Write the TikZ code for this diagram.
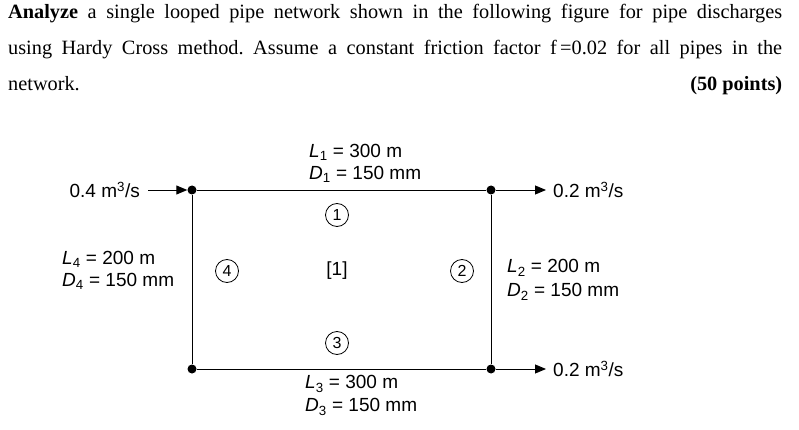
\documentclass[tikz,border=0pt]{standalone}
\usepackage{fontspec}
\setmainfont{Liberation Serif}
\newfontfamily\arial{Liberation Sans}
\usetikzlibrary{arrows.meta}
\begin{document}
\begin{tikzpicture}[x=1pt,y=-1pt,
  dot/.style={circle,fill,inner sep=0pt,minimum size=9pt},
  lbl/.style={font=\arial\fontsize{19}{22}\selectfont,inner sep=0pt},
  num/.style={circle,draw,line width=0.8pt,inner sep=0pt,minimum size=23pt,font=\arial\fontsize{16}{16}\selectfont},
  pipe/.style={line width=0.9pt},
  flow/.style={line width=0.9pt,-{Triangle[length=11pt,width=9pt]}}]
\useasboundingbox (0,0) rectangle (799,430);
\node[anchor=north west,inner sep=0pt,text width=774pt,align=justify,
  font=\fontsize{20.3}{36}\selectfont\frenchspacing] (txt) at (8,4)
 {\textbf{Analyze} a single looped pipe network shown in the following figure for pipe discharges\linebreak
  using Hardy Cross method. Assume a constant friction factor f\,=0.02 for all pipes in the\linebreak
  network.\hfill\textbf{(50 points)}};
\node[dot] (a) at (192,190) {};
\node[dot] (b) at (491,190) {};
\node[dot] (c) at (491,369) {};
\node[dot] (d) at (192,369) {};
\draw[pipe] (a) -- (b) -- (c) -- (d) -- (a);
\coordinate (in) at (148,190);
\coordinate (o1) at (546,190);
\coordinate (o2) at (546,369);
\draw[flow] (in) -- (a.west);
\draw[flow] (b) -- (o1);
\draw[flow] (c) -- (o2);
\node[lbl,anchor=east] (qin) at (140,190) {0.4 m\textsuperscript{3}/s};
\node[lbl,anchor=west] (q1) at (553,190) {0.2 m\textsuperscript{3}/s};
\node[lbl,anchor=west] (q2) at (553,369) {0.2 m\textsuperscript{3}/s};
\node[num] (n1) at (337,215) {1};
\node[num] (n2) at (462,271) {2};
\node[num] (n3) at (337,343) {3};
\node[num] (n4) at (227,271) {4};
\node[lbl] (loop) at (337,271) {[1]};
\node[lbl,anchor=west] (l1) at (309,152) {\textit{L}\textsubscript{1} = 300 m};
\node[lbl,anchor=west] (d1) at (309,174) {\textit{D}\textsubscript{1} = 150 mm};
\node[lbl,anchor=west] (l4) at (62,259) {\textit{L}\textsubscript{4} = 200 m};
\node[lbl,anchor=west] (d4) at (62,281) {\textit{D}\textsubscript{4} = 150 mm};
\node[lbl,anchor=west] (l2) at (507,268) {\textit{L}\textsubscript{2} = 200 m};
\node[lbl,anchor=west] (d2) at (507,292) {\textit{D}\textsubscript{2} = 150 mm};
\node[lbl,anchor=west] (l3) at (305,384) {\textit{L}\textsubscript{3} = 300 m};
\node[lbl,anchor=west] (d3) at (305,407) {\textit{D}\textsubscript{3} = 150 mm};
\end{tikzpicture}
\end{document}
